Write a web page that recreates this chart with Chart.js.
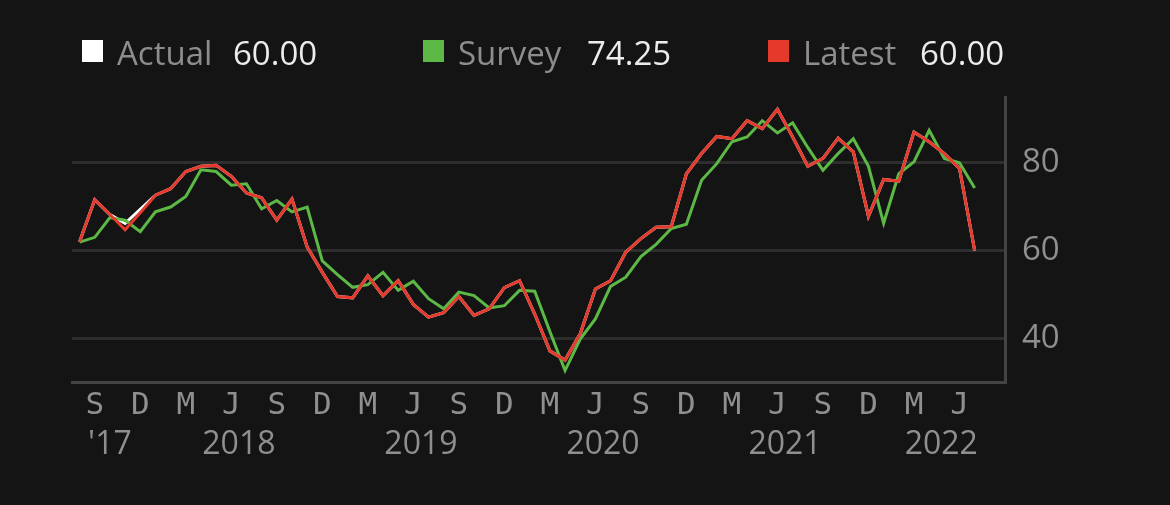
<!DOCTYPE html>
<html>
<head>
<meta charset="utf-8">
<script src="https://cdn.jsdelivr.net/npm/chart.js@4/dist/chart.umd.min.js"></script>
<style>
  html, body { margin: 0; padding: 0; background: #141414; }
  #wrap { position: relative; width: 1170px; height: 505px; overflow: hidden; }
  #chart { position: absolute; left: 0; top: 0; }
  .item { position: absolute; top: 30px; height: 45px; line-height: 45px; white-space: nowrap;
          font-family: "Open Sans", sans-serif; font-size: 33px; }
  .sw { position: absolute; left: 0; top: 10px; width: 21px; height: 22px; }
  .lab { position: absolute; color: #8d8d8d; }
  .val { position: absolute; color: #ececec; }
</style>
</head>
<body>
<div id="wrap">
  <canvas id="chart" width="1170" height="505"></canvas>
  <div id="legend"></div>
</div>
<script>
// monthly, Aug 2017 .. Jul 2022
const MONTHS = [
  "2017-08", "2017-09", "2017-10", "2017-11", "2017-12",
  "2018-01", "2018-02", "2018-03", "2018-04", "2018-05", "2018-06", "2018-07", "2018-08", "2018-09", "2018-10", "2018-11", "2018-12",
  "2019-01", "2019-02", "2019-03", "2019-04", "2019-05", "2019-06", "2019-07", "2019-08", "2019-09", "2019-10", "2019-11", "2019-12",
  "2020-01", "2020-02", "2020-03", "2020-04", "2020-05", "2020-06", "2020-07", "2020-08", "2020-09", "2020-10", "2020-11", "2020-12",
  "2021-01", "2021-02", "2021-03", "2021-04", "2021-05", "2021-06", "2021-07", "2021-08", "2021-09", "2021-10", "2021-11", "2021-12",
  "2022-01", "2022-02", "2022-03", "2022-04", "2022-05", "2022-06", "2022-07",
];

const LATEST = [
  62.0, 71.6, 68.2, 64.7, 68.6,
  72.6, 74.1, 78.0, 79.2, 79.4, 76.9, 73.1, 72.0, 66.9, 71.7, 60.8, 55.0,
  49.5, 49.2, 54.2, 49.7, 53.1, 47.7, 44.8, 45.8, 49.5, 45.2, 46.7, 51.5,
  53.1, 45.5, 37.1, 35.0, 41.0, 51.2, 53.1, 59.6, 62.7, 65.3, 65.4, 77.5,
  82.1, 86.0, 85.5, 89.6, 87.8, 92.2, 85.9, 79.2, 81.0, 85.6, 82.5, 67.8,
  76.2, 75.8, 87.0, 84.8, 82.1, 78.7, 60.0,
];

const ACTUAL = [
  62.0, 71.6, 68.2, 66.2, 69.4,
  72.6, 74.1, 78.0, 79.2, 79.4, 76.9, 73.1, 72.0, 66.9, 71.7, 60.8, 55.0,
  49.5, 49.2, 54.2, 49.7, 53.1, 47.7, 44.8, 45.8, 49.5, 45.2, 46.7, 51.5,
  53.1, 45.5, 37.1, 35.0, 41.0, 51.2, 53.1, 59.6, 62.7, 65.3, 65.4, 77.5,
  82.1, 86.0, 85.5, 89.6, 87.8, 92.2, 85.9, 79.2, 81.0, 85.6, 82.5, 67.8,
  76.2, 75.8, 87.0, 84.8, 82.1, 78.7, 60.0,
];

const SURVEY = [
  61.9, 63.0, 67.5, 66.9, 64.3,
  68.8, 69.9, 72.3, 78.4, 78.0, 74.9, 75.2, 69.5, 71.4, 68.8, 69.9, 57.6,
  54.5, 51.6, 52.2, 55.0, 50.9, 53.0, 49.0, 46.7, 50.5, 49.7, 46.9, 47.4,
  50.9, 50.7, 41.5, 32.6, 39.8, 44.4, 51.8, 53.9, 58.6, 61.4, 65.0, 66.0,
  76.0, 79.8, 84.8, 85.9, 89.6, 86.8, 89.1, 83.5, 78.3, 82.1, 85.5, 79.2,
  66.2, 77.5, 80.2, 87.4, 81.0, 80.0, 74.25,
];

const MONTH_LETTER = { "03": "M", "06": "J", "09": "S", "12": "D" };
const YEAR_LABELS = ["'17", "2018", "2019", "2020", "2021", "2022"];
const YEAR_TICKS = [2, 10.5, 22.5, 34.5, 46.5, 56.8];
const Y_TICKS = [40, 60, 80];

const RED = "#e4392b";
const GREEN = "#5cb946";
const WHITE = "#ffffff";
const TICK_GREY = "#8f8f8f";

// legend (label + last value)
const legendItems = [
  { label: "Actual", value: ACTUAL[ACTUAL.length - 1], color: WHITE, left: 82, valX: 151 },
  { label: "Survey", value: SURVEY[SURVEY.length - 1], color: GREEN, left: 423, valX: 164 },
  { label: "Latest", value: LATEST[LATEST.length - 1], color: RED, left: 768, valX: 152 },
];
const legendEl = document.getElementById("legend");
legendItems.forEach(it => {
  const d = document.createElement("div");
  d.className = "item";
  d.style.left = it.left + "px";
  d.innerHTML = `<span class="sw" style="background:${it.color}"></span>` +
    `<span class="lab" style="left:35px">${it.label}</span>` +
    `<span class="val" style="left:${it.valX}px">${it.value.toFixed(2)}</span>`;
  legendEl.appendChild(d);
});

const monthTicks = MONTHS.map((m, i) => [m.slice(5), i]).filter(([mm]) => MONTH_LETTER[mm]);

const points = arr => arr.map((v, i) => ({ x: i, y: v }));

new Chart(document.getElementById("chart"), {
  type: "line",
  data: {
    datasets: [
      { label: "Latest", data: points(LATEST), borderColor: RED, borderWidth: 3, pointRadius: 0, tension: 0, order: 0 },
      { label: "Survey", data: points(SURVEY), borderColor: GREEN, borderWidth: 3, pointRadius: 0, tension: 0, order: 1 },
      { label: "Actual", data: points(ACTUAL), borderColor: WHITE, borderWidth: 3, pointRadius: 0, tension: 0, order: 2 },
    ],
  },
  options: {
    responsive: false,
    animation: false,
    layout: { padding: { top: 97, left: 72, right: 0, bottom: 0 } },
    plugins: { legend: { display: false }, tooltip: { enabled: false } },
    scales: {
      x: {
        type: "linear",
        position: "bottom",
        min: -0.5,
        max: 61,
        weight: 0,
        afterBuildTicks: s => { s.ticks = monthTicks.map(([, i]) => ({ value: i })); },
        afterFit: s => { s.height = 40; },
        grid: { display: false, drawTicks: false, tickLength: 0 },
        border: { display: true, color: "#444444", width: 3 },
        ticks: {
          autoSkip: false,
          maxRotation: 0,
          padding: 5,
          color: TICK_GREY,
          font: { family: "DejaVu Sans Mono", size: 31 },
          callback: v => MONTH_LETTER[MONTHS[v].slice(5)],
        },
      },
      x2: {
        type: "linear",
        position: "bottom",
        min: -0.5,
        max: 61,
        weight: 1,
        afterBuildTicks: s => { s.ticks = YEAR_TICKS.map(v => ({ value: v })); },
        afterFit: s => { s.height = 83; },
        grid: { display: false, drawTicks: false, tickLength: 0 },
        border: { display: false },
        ticks: {
          autoSkip: false,
          maxRotation: 0,
          padding: 4,
          color: TICK_GREY,
          font: { family: "Open Sans", size: 32 },
          callback: v => YEAR_LABELS[YEAR_TICKS.indexOf(v)],
        },
      },
      y: {
        position: "right",
        min: 30,
        max: 95,
        afterBuildTicks: s => { s.ticks = Y_TICKS.map(v => ({ value: v })); },
        afterFit: s => { s.width = 165; },
        grid: { color: "#2e2e2e", lineWidth: 3, drawTicks: false, tickLength: 0 },
        border: { display: true, color: "#444444", width: 3 },
        ticks: {
          padding: 17,
          color: TICK_GREY,
          font: { family: "Open Sans", size: 33 },
        },
      },
    },
  },
});
</script>
</body>
</html>
